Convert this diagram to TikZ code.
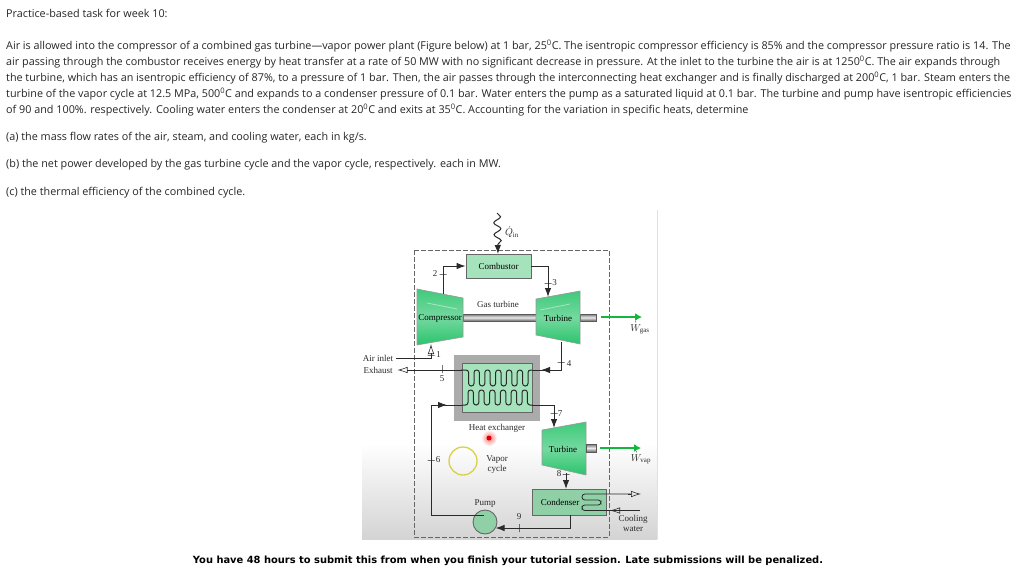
\documentclass[tikz,border=0pt]{standalone}
\usepackage{fontspec}
\setmainfont{Liberation Serif}
\newfontfamily\bodyfont{Open Sans}
\newfontfamily\notefont{DejaVu Sans}
\usetikzlibrary{arrows.meta,decorations.pathmorphing}
\definecolor{boxgreen}{HTML}{A5E3BC}
\definecolor{condgreen}{HTML}{8FD0A6}
\definecolor{bladegreen}{HTML}{2AC46C}
\definecolor{flowgreen}{HTML}{12B83E}
\definecolor{inkgray}{HTML}{2A2A2A}
\tikzset{
  txt/.style={anchor=west,inner sep=0pt,text=black!85,font=\bodyfont\fontsize{10.8}{12}\selectfont},
  lab/.style={inner sep=0pt,text=inkgray,font=\fontsize{9}{10}\selectfont,align=center},
  box/.style={rectangle,draw=black!60,line width=0.8pt,inner sep=0pt},
  tickh/.style={draw=inkgray,line width=0.5pt,inner sep=0pt,minimum width=7pt,minimum height=0pt},
  tickv/.style={draw=inkgray,line width=0.5pt,inner sep=0pt,minimum width=0pt,minimum height=8pt},
  pipe/.style={draw=inkgray,line width=1pt,>={Latex[length=9pt,width=6.5pt]}},
  blade/.style={draw=black!40,line width=0.6pt,top color=bladegreen!90,bottom color=bladegreen,middle color=bladegreen!65},
  streak/.style={draw=white,line width=0.8pt,opacity=0.45},
  shaft/.style={draw=black!65,line width=0.6pt,top color=black!55,bottom color=black!60,middle color=black!8},
  work/.style={->,draw=flowgreen,line width=2.2pt,>={Latex[length=7pt,width=8pt]}},
  opentip/.style={draw=inkgray,line width=0.6pt,>={Latex[open,length=10pt,width=6.5pt]}},
}
\begin{document}
\begin{tikzpicture}[>=latex,x=1pt,y=-1pt]
\useasboundingbox (0,0) rectangle (1024,565);
\fill[white] (0,0) rectangle (1024,565);
\shade[top color=white,bottom color=black!17] (362,443) rectangle (657,539);
\draw[black!12,line width=1pt] (657.5,210)--(657.5,539);

\node (head) at (6,13)[txt]{Practice-based task for week 10:};
\node (l1) at (6,46)[txt]{Air is allowed into the compressor of a combined gas turbine—vapor power plant (Figure below) at 1 bar, 25\textsuperscript{0}C. The isentropic compressor efficiency is 85\% and the compressor pressure ratio is 14. The};
\node (l2) at (6,62)[txt]{air passing through the combustor receives energy by heat transfer at a rate of 50 MW with no significant decrease in pressure. At the inlet to the turbine the air is at 1250\textsuperscript{0}C. The air expands through};
\node (l3) at (6,78)[txt]{the turbine, which has an isentropic efficiency of 87\%, to a pressure of 1 bar. Then, the air passes through the interconnecting heat exchanger and is finally discharged at 200\textsuperscript{0}C, 1 bar. Steam enters the};
\node (l4) at (6,94)[txt]{turbine of the vapor cycle at 12.5 MPa, 500\textsuperscript{0}C and expands to a condenser pressure of 0.1 bar. Water enters the pump as a saturated liquid at 0.1 bar. The turbine and pump have isentropic efficiencies};
\node (l5) at (6,110)[txt]{of 90 and 100\%. respectively. Cooling water enters the condenser at 20\textsuperscript{0}C and exits at 35\textsuperscript{0}C. Accounting for the variation in specific heats, determine};
\node (qa) at (6,138)[txt]{(a) the mass flow rates of the air, steam, and cooling water, each in kg/s.};
\node (qb) at (6,165)[txt]{(b) the net power developed by the gas turbine cycle and the vapor cycle, respectively. each in MW.};
\node (qc) at (6,193)[txt]{(c) the thermal efficiency of the combined cycle.};
\node (note) at (508,561)[inner sep=0pt,text=black,font=\notefont\bfseries\fontsize{9.9}{12}\selectfont]{You have 48 hours to submit this from when you finish your tutorial session. Late submissions will be penalized.};

\draw[black!60,dash pattern=on 5pt off 2pt,line width=0.7pt] (414,250) rectangle (609,537);

\node (comb) at (498.5,266)[box,fill=boxgreen,minimum width=65pt,minimum height=24pt,font=\fontsize{9}{10}\selectfont]{Combustor};
\draw[shaft] (463,314) rectangle (536,321);
\draw[shaft] (580,314) rectangle (596,321);
\draw[blade] (417,289)--(463,298)--(463,337)--(417,345)--cycle;
\draw[blade] (536,299)--(580,291)--(580,344)--(536,335)--cycle;
\draw[blade] (542,430)--(586,422)--(586,475)--(542,465)--cycle;
\draw[streak] (427,303)--(457,309);
\draw[streak] (540,310)--(570,304);
\draw[shaft] (586,444) rectangle (596,452);
\node (compr) at (440,318)[lab,text=black]{Compressor};
\node (gturb) at (558,318)[lab,text=black]{Turbine};
\node (vturb) at (563,449)[lab,text=black]{Turbine};
\coordinate (compr1) at (431,344);
\coordinate (compr2) at (443,294);
\coordinate (gturb3) at (548,297);
\coordinate (gturb4) at (561,342);
\coordinate (vturb7) at (554,428);
\coordinate (vturb8) at (566,473);

\node (gas) at (498,304)[lab]{Gas turbine};
\node (hxlab) at (497,428)[lab]{Heat exchanger};
\node (cycle) at (497,465)[lab]{Vapor\\cycle};

\node (hxo) at (497,388)[rectangle,fill=black!33,minimum width=86pt,minimum height=66pt,inner sep=0pt]{};
\node (hxi) at (497,387.5)[box,fill=boxgreen,minimum width=70pt,minimum height=49pt]{};
\coordinate (hxne) at (532,370);
\coordinate (hxnw) at (462,370);
\coordinate (hxsw) at (462,405);
\coordinate (hxse) at (532,405);
\coordinate (hxtip) at (541,370);
\draw[pipe,rounded corners=2.6pt] (hxne)--(528,370) \foreach \k in {1,...,6}{--++(0,16)--++(-5.4,0)--++(0,-16)--++(-5.4,0)}--(hxnw);
\draw[pipe,rounded corners=2.6pt] (hxsw)--(468,405) \foreach \k in {1,...,6}{--++(0,-15)--++(5.4,0)--++(0,15)--++(5.4,0)};

\node (cond) at (569,502)[box,fill=condgreen,minimum width=74pt,minimum height=26pt]{};
\node (condlab) at (560,502)[lab,text=black]{Condenser};
\node (pump) at (485,522)[circle,draw=black!60,line width=0.9pt,fill=condgreen,minimum size=24pt,inner sep=0pt]{};
\node (pumplab) at (485,503.5)[lab]{Pump};
\coordinate (pumpin) at (484,515);
\coordinate (pumpout) at (495.5,528);
\node (ring) at (463,461)[circle,draw=yellow!80!black!85,line width=1.3pt,minimum size=28pt,inner sep=0pt]{};
\node (spot) at (489,438)[circle,inner color=red!55,outer color=white,minimum size=16pt,inner sep=0pt]{};
\node (dot) at (489,438)[circle,fill=red!85!black,minimum size=5pt,inner sep=0pt]{};

\node (air) at (378,358)[lab,outer sep=3pt]{Air inlet};
\node (exh) at (378,370)[lab,outer sep=5pt]{Exhaust};
\node (qin) at (512,232)[lab,font=\fontsize{10}{11}\selectfont]{$\dot{Q}_{\mathrm{in}}$};
\node (wgas) at (640,328)[lab,font=\fontsize{10}{11}\selectfont]{$\dot{W}_{\mathrm{gas}}$};
\node (wvap) at (641,458)[lab,font=\fontsize{10}{11}\selectfont]{$\dot{W}_{\mathrm{vap}}$};
\node (cool) at (633,523)[lab]{Cooling\\water};
\coordinate (qtop) at (497,213);
\coordinate (comba) at (498,254);
\coordinate (wgs) at (601,317);
\coordinate (wge) at (642,317);
\coordinate (wvs) at (600,448);
\coordinate (wve) at (641,448);
\coordinate (coolout) at (641,494);
\coordinate (coolsrc) at (640,510.5);
\coordinate (coolin) at (610,510.5);
\coordinate (condn) at (566,489);
\coordinate (conds) at (570,515);
\coordinate (airup) at (431,353);
\coordinate (left5) at (431,405);
\coordinate (left6) at (447,405);

\draw[->,pipe,decorate,decoration={snake,amplitude=3.5pt,segment length=12pt,post length=8pt}](qtop)--(comba);
\draw[->,pipe](compr2)|-(comb);
\draw[->,pipe](comb.east)-|(gturb3);
\draw[pipe](gturb4)|-(hxne);
\draw[->,pipe](551,370)--(hxtip);
\draw[pipe](air)-|(airup);
\draw[->,opentip](airup)--(compr1);
\draw[->,opentip](hxnw)--(exh);
\draw[->,pipe](hxse)-|(vturb7);
\draw[->,pipe](vturb8)--(condn);
\draw[->,pipe](conds)|-(pumpout);
\draw[pipe](pumpin)-|(left5)--(hxsw);
\draw[->,pipe](437,405)--(left6);
\draw[work](wgs)--(wge);
\draw[work](wvs)--(wve);
\draw[->,opentip](coolsrc)--(coolin);
\draw[pipe,line width=0.8pt,rounded corners=2.8pt](620,510.5)--(582,510.5)--(582,505)--(601,505)--(601,500)--(582,500)--(582,494)--(632,494);
\draw[->,opentip](628,494)--(coolout);

\node (t2) at (443,274)[tickh]{};
\node (t3) at (548,283)[tickh]{};
\node (t1) at (431,355)[tickh]{};
\node (t4) at (561,362)[tickh]{};
\node (t5) at (442,369)[tickv]{};
\node (t6) at (431,460)[tickh]{};
\node (t7) at (554,413)[tickh]{};
\node (t8) at (566,474)[tickh]{};
\node (t9) at (519,528)[tickv]{};
\node (n2) at (435,274)[lab]{2};
\node (n3) at (554.5,283)[lab]{3};
\node (n1) at (438.5,355)[lab]{1};
\node (n4) at (569,364)[lab]{4};
\node (n5) at (442,379)[lab]{5};
\node (n6) at (438,460)[lab]{6};
\node (n7) at (560,414)[lab]{7};
\node (n8) at (559,474)[lab]{8};
\node (n9) at (519,517)[lab]{9};
\end{tikzpicture}
\end{document}
